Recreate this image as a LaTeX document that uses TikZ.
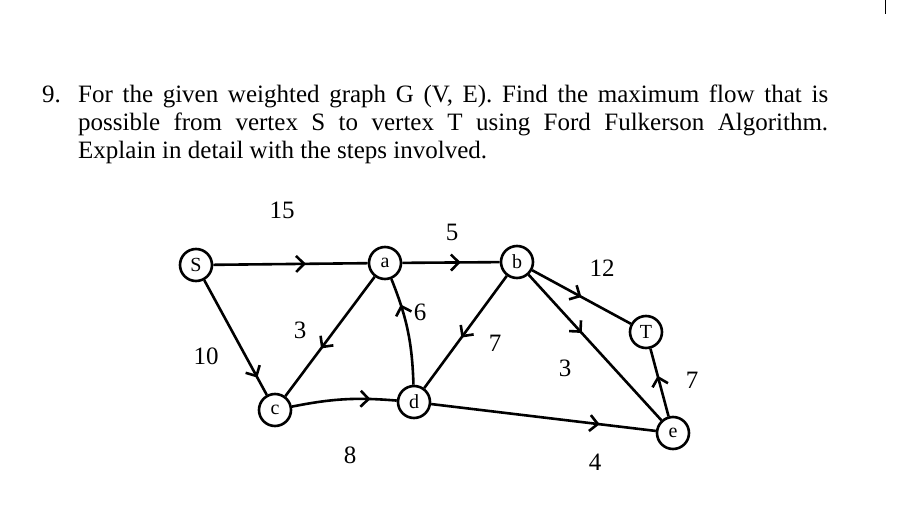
\documentclass[tikz,border=0pt]{standalone}
\usepackage{fontspec}
\setmainfont{Liberation Serif}
\usetikzlibrary{arrows.meta,decorations.markings}
\begin{document}
\begin{tikzpicture}[x=1pt,y=-1pt,
  vtx/.style={circle,draw,line width=2.6pt,minimum size=32pt,inner sep=0pt,font=\fontsize{20}{20}\selectfont},
  edg/.style={line width=2.6pt,postaction={decorate},decoration={markings,mark=at position #1 with {\arrow[line width=2.6pt]{Straight Barb[length=8pt,width=16pt]}}}},
  edg/.default=0.6,
  wt/.style={font=\fontsize{25}{25}\selectfont},
  q/.style={anchor=base west,inner sep=0pt,font=\fontsize{25}{28}\selectfont}]
\useasboundingbox (0,0) rectangle (906,522);
\draw[line width=1pt] (885,0) -- (885,14);
\node[q] (l1) at (42,102) {9.};
\node[q] (l1b) at (78,102) {\makebox[750pt][s]{For the given weighted graph G (V, E). Find the maximum flow that is}};
\node[q] (l2) at (78,130) {\makebox[750pt][s]{possible from vertex S to vertex T using Ford Fulkerson Algorithm.}};
\node[q] (l3) at (78,158) {Explain in detail with the steps involved.};
\node[vtx] (S) at (196,265) {S};
\node[vtx] (a) at (385,263) {a};
\node[vtx] (b) at (517,262) {b};
\node[vtx] (T) at (646,332) {T};
\node[vtx] (c) at (275,410) {c};
\node[vtx] (d) at (414,402) {d};
\node[vtx] (e) at (673,433) {e};
\draw[edg=0.6] (S) -- (a);
\draw[edg=0.6] (a) -- (b);
\draw[edg=0.85] (S) -- (c);
\draw[edg=0.6] (a) -- (c);
\draw[edg=0.75] (d) to[bend right=10] (a);
\draw[edg=0.55] (b) -- (d);
\draw[edg=0.75] (c) to[bend left=8] (d);
\draw[edg=0.5] (b) -- (T);
\draw[edg=0.4] (b) -- (e);
\draw[edg=0.75] (d) -- (e);
\draw[edg=0.6] (e) -- (T);
\node[wt] (w1) at (282,210) {15};
\node[wt] (w2) at (452,232) {5};
\node[wt] (w3) at (206,356) {10};
\node[wt] (w4) at (300,330) {3};
\node[wt] (w5) at (420,312) {6};
\node[wt] (w6) at (495,343) {7};
\node[wt] (w7) at (350,455) {8};
\node[wt] (w8) at (602,268) {12};
\node[wt] (w9) at (565,368) {3};
\node[wt] (w10) at (595,462) {4};
\node[wt] (w11) at (692,380) {7};
\end{tikzpicture}
\end{document}
